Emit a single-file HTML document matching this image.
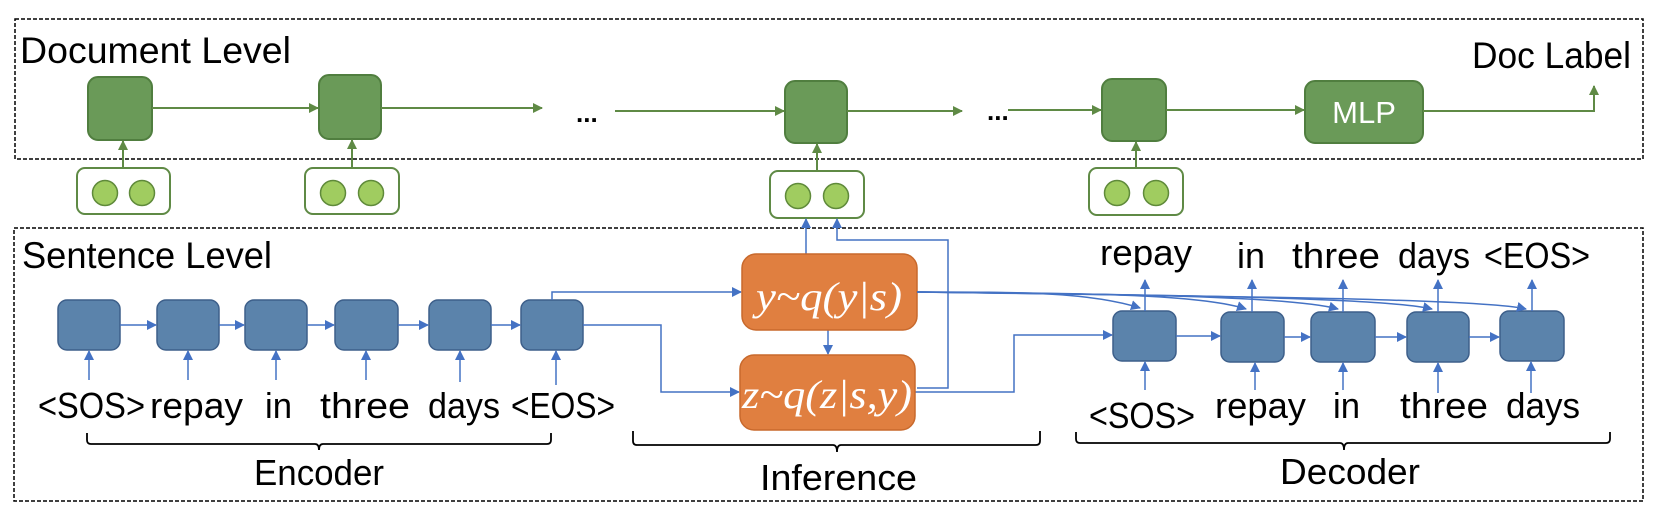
<!DOCTYPE html>
<html><head><meta charset="utf-8"><style>
html,body{margin:0;padding:0;background:#fff;}
svg{display:block;}
</style></head><body>
<svg width="1662" height="515" viewBox="0 0 1662 515" xmlns="http://www.w3.org/2000/svg" font-family="Liberation Sans, sans-serif">
<defs>
<marker id="ag" markerWidth="10" markerHeight="10" refX="9" refY="5" orient="auto" markerUnits="userSpaceOnUse"><path d="M0,0 L10,5 L0,10 z" fill="#5f8a45"/></marker>
<marker id="ab" markerWidth="10" markerHeight="10" refX="9" refY="5" orient="auto" markerUnits="userSpaceOnUse"><path d="M0,0 L10,5 L0,10 z" fill="#4472c4"/></marker>
</defs>
<rect x="15" y="19" width="1628" height="140" fill="none" stroke="#000" stroke-width="1.5" stroke-dasharray="4,2"/>
<rect x="14" y="228" width="1629" height="273" fill="none" stroke="#000" stroke-width="1.5" stroke-dasharray="4,2"/>
<text x="20" y="63" font-size="37" textLength="271" lengthAdjust="spacingAndGlyphs">Document Level</text>
<text x="1472" y="68" font-size="37" textLength="159" lengthAdjust="spacingAndGlyphs">Doc Label</text>
<text x="22" y="268" font-size="37" textLength="250" lengthAdjust="spacingAndGlyphs">Sentence Level</text>

<g fill="#6a9a58" stroke="#507e3f" stroke-width="2">
<rect x="88" y="77" width="64" height="63" rx="10"/>
<rect x="319" y="75" width="62" height="64" rx="10"/>
<rect x="785" y="81" width="62" height="62" rx="10"/>
<rect x="1102" y="79" width="64" height="62" rx="10"/>
<rect x="1305" y="81" width="118" height="62" rx="10"/>
</g>
<text x="1364" y="123" font-size="31" fill="#fff" text-anchor="middle">MLP</text>
<g stroke="#5f8a45" stroke-width="2" fill="none" marker-end="url(#ag)">
<line x1="152" y1="108" x2="318" y2="108"/>
<line x1="381" y1="108" x2="542" y2="108"/>
<line x1="615" y1="111" x2="784" y2="111"/>
<line x1="847" y1="111" x2="962" y2="111"/>
<line x1="1008" y1="110" x2="1101" y2="110"/>
<line x1="1166" y1="110" x2="1304" y2="110"/>
<polyline points="1423,111 1594,111 1594,86"/>
<line x1="123" y1="168" x2="123" y2="141"/>
<line x1="352" y1="168" x2="352" y2="140"/>
<line x1="817" y1="171" x2="817" y2="144"/>
<line x1="1136" y1="168" x2="1136" y2="142"/>
</g>
<text x="576" y="122" font-size="26" font-weight="bold">...</text>
<text x="987" y="120" font-size="26" font-weight="bold">...</text>
<g fill="#fff" stroke="#5f8a45" stroke-width="2">
<rect x="77" y="168" width="93" height="46" rx="8"/>
<rect x="305" y="168" width="94" height="46" rx="8"/>
<rect x="770" y="171" width="94" height="47" rx="8"/>
<rect x="1089" y="168" width="94" height="47" rx="8"/>
</g>
<g fill="#a0cc60" stroke="#5f8a3a" stroke-width="1.5">
<circle cx="105" cy="193" r="12.5"/><circle cx="142" cy="193" r="12.5"/>
<circle cx="333" cy="193" r="12.5"/><circle cx="371" cy="193" r="12.5"/>
<circle cx="798" cy="196" r="12.5"/><circle cx="836" cy="196" r="12.5"/>
<circle cx="1117" cy="193" r="12.5"/><circle cx="1156" cy="193" r="12.5"/>
</g>

<g fill="#5b83ab" stroke="#3d5f8a" stroke-width="1.5">
<rect x="58" y="300" width="62" height="50" rx="9"/>
<rect x="157" y="300" width="62" height="50" rx="9"/>
<rect x="245" y="300" width="62" height="50" rx="9"/>
<rect x="335" y="300" width="63" height="50" rx="9"/>
<rect x="429" y="300" width="62" height="50" rx="9"/>
<rect x="521" y="300" width="62" height="50" rx="9"/>
</g>
<g stroke="#4472c4" stroke-width="1.5" fill="none" marker-end="url(#ab)">
<line x1="120" y1="325" x2="156" y2="325"/>
<line x1="219" y1="325" x2="244" y2="325"/>
<line x1="307" y1="325" x2="334" y2="325"/>
<line x1="398" y1="325" x2="428" y2="325"/>
<line x1="491" y1="325" x2="520" y2="325"/>
<line x1="89" y1="380" x2="89" y2="351"/>
<line x1="188" y1="380" x2="188" y2="351"/>
<line x1="276" y1="380" x2="276" y2="351"/>
<line x1="366" y1="380" x2="366" y2="351"/>
<line x1="460" y1="382" x2="460" y2="351"/>
<line x1="556" y1="385" x2="556" y2="351"/>
<polyline points="552,300 552,292 741,292"/>
<polyline points="583,325 661,325 661,392 739,392"/>
<line x1="828" y1="330" x2="828" y2="354"/>
<line x1="806" y1="254" x2="806" y2="219"/>
<polyline points="917,388 948,388 948,240 837,240 837,219"/>
<polyline points="915,392 1014,392 1014,335 1112,335"/>
</g>
<g font-size="36">
<text x="38" y="418" textLength="107" lengthAdjust="spacingAndGlyphs">&lt;SOS&gt;</text>
<text x="150" y="418" textLength="93" lengthAdjust="spacingAndGlyphs">repay</text>
<text x="265" y="418" textLength="27" lengthAdjust="spacingAndGlyphs">in</text>
<text x="320" y="418" textLength="90" lengthAdjust="spacingAndGlyphs">three</text>
<text x="428" y="418" textLength="72" lengthAdjust="spacingAndGlyphs">days</text>
<text x="511" y="418" textLength="104" lengthAdjust="spacingAndGlyphs">&lt;EOS&gt;</text>
<text x="254" y="485" textLength="130" lengthAdjust="spacingAndGlyphs">Encoder</text>
<text x="760" y="490" textLength="157" lengthAdjust="spacingAndGlyphs">Inference</text>
<text x="1280" y="484" textLength="140" lengthAdjust="spacingAndGlyphs">Decoder</text>
</g>
<g stroke="#000" stroke-width="1.8" fill="none">
<path d="M87,433 L87,440 Q87,444 91,444 L315,444 Q319,444 319,450 Q319,444 323,444 L547,444 Q551,444 551,440 L551,433"/>
<path d="M633,431 L633,441 Q633,445 637,445 L833,445 Q837,445 837,452 Q837,445 841,445 L1036,445 Q1040,445 1040,441 L1040,431"/>
<path d="M1076,432 L1076,439 Q1076,443 1080,443 L1340,443 Q1344,443 1344,450 Q1344,443 1348,443 L1606,443 Q1610,443 1610,439 L1610,432"/>
</g>

<g fill="#e07f40" stroke="#c8692c" stroke-width="1.5">
<rect x="742" y="254" width="175" height="76" rx="14"/>
<rect x="740" y="355" width="175" height="75" rx="14"/>
</g>
<text x="829" y="310" style="font-family:'Liberation Serif',serif;font-style:italic" font-size="40" fill="#fff" text-anchor="middle" textLength="146" lengthAdjust="spacingAndGlyphs">y~q(y|s)</text>
<text x="742" y="408" style="font-family:'Liberation Serif',serif;font-style:italic" font-size="40" fill="#fff" textLength="170" lengthAdjust="spacingAndGlyphs">z~q(z|s,y)</text>

<g fill="#5b83ab" stroke="#3d5f8a" stroke-width="1.5">
<rect x="1113" y="311" width="63" height="50" rx="9"/>
<rect x="1221" y="312" width="63" height="50" rx="9"/>
<rect x="1311" y="312" width="64" height="50" rx="9"/>
<rect x="1407" y="312" width="62" height="50" rx="9"/>
<rect x="1500" y="311" width="64" height="50" rx="9"/>
</g>
<g stroke="#4472c4" stroke-width="1.5" fill="none" marker-end="url(#ab)">
<line x1="1176" y1="336" x2="1220" y2="336"/>
<line x1="1284" y1="337" x2="1310" y2="337"/>
<line x1="1375" y1="337" x2="1406" y2="337"/>
<line x1="1469" y1="337" x2="1499" y2="337"/>
<line x1="1145" y1="311" x2="1145" y2="280"/>
<line x1="1252" y1="312" x2="1252" y2="280"/>
<line x1="1343" y1="312" x2="1343" y2="280"/>
<line x1="1438" y1="312" x2="1438" y2="280"/>
<line x1="1532" y1="311" x2="1532" y2="280"/>
<line x1="1145" y1="390" x2="1145" y2="362"/>
<line x1="1255" y1="390" x2="1255" y2="363"/>
<line x1="1343" y1="390" x2="1343" y2="363"/>
<line x1="1438" y1="393" x2="1438" y2="363"/>
<line x1="1531" y1="393" x2="1531" y2="362"/>
<path d="M917,292 C1020,292 1090,292 1140,308"/>
<path d="M917,292 C1080,293 1200,294 1246,309"/>
<path d="M917,292 C1120,294 1290,296 1338,309"/>
<path d="M917,292 C1150,295 1380,297 1432,309"/>
<path d="M917,292 C1180,296 1480,298 1526,309"/>
</g>
<g font-size="36">
<text x="1100" y="265" textLength="92" lengthAdjust="spacingAndGlyphs">repay</text>
<text x="1237" y="268" textLength="28" lengthAdjust="spacingAndGlyphs">in</text>
<text x="1292" y="268" textLength="88" lengthAdjust="spacingAndGlyphs">three</text>
<text x="1398" y="268" textLength="72" lengthAdjust="spacingAndGlyphs">days</text>
<text x="1484" y="268" textLength="106" lengthAdjust="spacingAndGlyphs">&lt;EOS&gt;</text>
<text x="1089" y="428" textLength="106" lengthAdjust="spacingAndGlyphs">&lt;SOS&gt;</text>
<text x="1215" y="418" textLength="91" lengthAdjust="spacingAndGlyphs">repay</text>
<text x="1333" y="418" textLength="27" lengthAdjust="spacingAndGlyphs">in</text>
<text x="1400" y="418" textLength="88" lengthAdjust="spacingAndGlyphs">three</text>
<text x="1506" y="418" textLength="74" lengthAdjust="spacingAndGlyphs">days</text>
</g>
</svg>
</body></html>
